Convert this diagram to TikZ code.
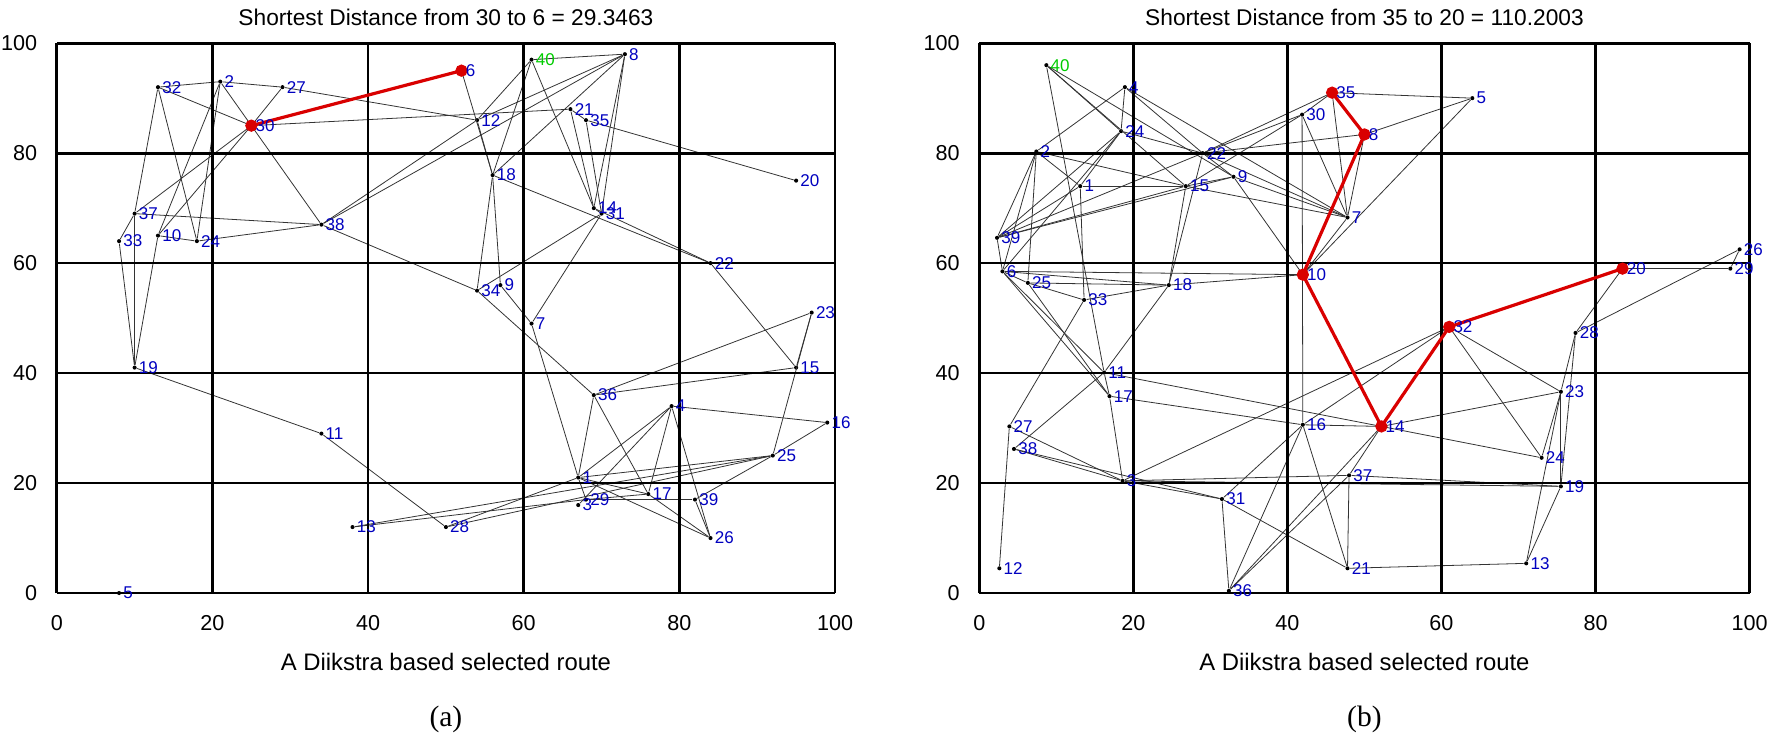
\documentclass[tikz,border=0pt]{standalone}
\usepackage{fontspec}
\setmainfont{Liberation Sans}
\newfontfamily\serifx{Liberation Serif}
\begin{document}
\begin{tikzpicture}[
  dot/.style={circle,fill=black,inner sep=0pt,minimum size=1.8pt},
  lab/.style={anchor=west,text=blue!75!black,font=\fontsize{7.5}{8}\selectfont,inner sep=0.6pt},
  edg/.style={draw=black!80,line width=0.35pt},
  gridl/.style={draw=black,line width=1.2pt},
  redp/.style={draw=red!85!black,line width=1.4pt},
  redn/.style={circle,draw=red!85!black,fill=red!85!black,inner sep=0pt,minimum size=5pt},
  tickl/.style={font=\fontsize{9.5}{10}\selectfont},
  ttl/.style={font=\fontsize{10}{11}\selectfont},
  capt/.style={font=\serifx\fontsize{13}{14}\selectfont}]
\useasboundingbox (0,0) rectangle (782.5pt,332pt);
% ---------------- LEFT PLOT ----------------
\begin{scope}[shift={(25pt,71pt)},x=3.425pt,y=2.42pt]
\foreach \n/\x/\y in {32/13/92,2/21/93,27/29/92,30/25/85,6/52/95,40/61/97,8/73/98,12/54/86,21/66/88,35/68/86,18/56/76,14/69/70,31/70/69,20/95/75,22/84/60,37/10/69,33/8/64,10/13/65,24/18/64,38/34/67,34/54/55,9/57/56,7/61/49,23/97/51,15/95/41,19/10/41,11/34/29,36/69/36,4/79/34,16/99/31,25/92/25,1/67/21,29/68/17,3/67/16,17/76/18,39/82/17,26/84/10,13/38/12,28/50/12,5/8/0}
  {\node[dot] (L\n) at (\x,\y) {};}
\foreach \a/\b in {32/2,32/30,32/24,32/37,2/27,2/30,2/24,2/10,27/30,27/12,30/21,30/38,30/37,30/10,37/38,37/33,33/19,37/19,10/19,10/24,24/38,38/8,38/34,38/12,6/18,40/8,40/18,40/14,40/12,12/18,12/8,8/18,8/14,8/31,21/35,21/14,35/20,35/31,18/22,18/34,18/9,14/31,14/22,31/34,31/7,9/7,34/36,7/1,22/15,23/15,23/25,23/36,36/1,36/17,4/1,4/17,4/16,4/26,36/15,16/25,25/1,25/39,25/13,25/28,1/29,1/26,29/17,17/26,29/39,28/1,13/29,11/19,11/28,39/26,1/17,3/4}
  {\draw[edg] (L\a) -- (L\b);}
\foreach \v in {0,20,...,100}{
  \draw[gridl] (\v,0) -- (\v,100);
  \draw[gridl] (0,\v) -- (100,\v);
  \node[tickl] (LX\v) at (\v,-5.5) {\v};
  \node[tickl,anchor=east] (LY\v) at (-1.5,\v) {\v};}
\draw[redp] (L30) -- (L6);
\node[redn] (R30) at (L30) {};
\node[redn] (R6) at (L6) {};
\foreach \n in {32,2,27,30,6,8,12,21,35,18,14,31,20,22,37,33,10,24,38,34,9,7,23,15,19,11,36,4,16,25,1,29,3,17,39,26,13,28,5}
  {\node[lab] (L\n t) at (L\n.east) {\n};}
\node[lab,text=green!80!black] (L40t) at (L40.east) {40};
\node[ttl] (Ltitle) at (50,104.6) {Shortest Distance from 30 to 6 = 29.3463};
\node[font=\fontsize{10.5}{11}\selectfont] (Lxl) at (50,-12.6) {A Diikstra based selected route};
\node[capt] (La) at (50,-23) {(a)};
\end{scope}
% ---------------- RIGHT PLOT ----------------
\begin{scope}[shift={(431pt,71pt)},x=3.39pt,y=2.42pt]
\foreach \n/\x/\y in {40/8.7/96,4/18.9/92,24/18.4/84,2/7.4/80.3,1/13.1/74,39/2.3/64.6,6/3/58.5,25/6.3/56.4,33/13.6/53.3,18/24.6/56,11/16.2/40.1,17/16.9/35.8,27/3.9/30.3,38/4.5/26.2,3/18.6/20.4,15/26.8/74,22/29/80,35/45.8/91,30/41.9/87,5/64/90,8/50/83.4,9/33/75.7,7/47.8/68.3,10/42/57.9,32/61/48.4,16/42/30.6,14/52.2/30.3,37/48/21.4,31/31.5/17.1,20/83.5/59,26/98.7/62.5,29/97.5/59,28/77.4/47.3,23/75.5/36.6,24b/73/24.6,19/75.5/19.4,13/71/5.4,21/47.8/4.5,36/32.4/0.4,12/2.6/4.5}
  {\node[dot] (R\n) at (\x,\y) {};}
\foreach \a/\b in {40/24,40/15,40/11,40/9,4/24,4/2,4/22,4/7,24/1,24/39,24/6,24/22,2/39,2/6,2/25,2/1,2/15,1/33,1/15,39/15,39/9,39/22,6/25,6/11,6/17,6/18,6/10,25/33,25/18,25/17,33/18,33/27,18/15,18/10,18/22,18/11,11/17,11/38,17/3,17/16,11/14,27/3,38/3,38/31,3/31,3/37,3/32,3/19,22/9,22/30,22/35,22/7,22/8,15/9,15/7,15/30,9/7,9/10,30/7,30/16,30/35,35/5,35/7,8/5,8/7,5/10,10/7,16/14,16/36,14/23,14/24b,14/37,32/23,32/24b,32/16,20/29,20/28,28/26,28/23,28/19,26/29,23/19,23/24b,19/13,13/23,37/19,37/21,37/36,21/13,21/31,21/16,36/31,36/14,12/27,31/16,39/6,1/39}
  {\draw[edg] (R\a) -- (R\b);}
\foreach \v in {0,20,...,100}{
  \draw[gridl] (\v,0) -- (\v,100);
  \draw[gridl] (0,\v) -- (100,\v);
  \node[tickl] (RX\v) at (\v,-5.5) {\v};
  \node[tickl,anchor=east] (RY\v) at (-1.5,\v) {\v};}
\draw[redp] (R35) -- (R8) -- (R10) -- (R14) -- (R32) -- (R20);
\foreach \n in {35,8,10,14,32,20}{\node[redn] (RR\n) at (R\n) {};}
\foreach \n in {4,24,2,1,39,6,25,33,18,11,17,27,38,3,15,22,35,30,5,8,9,7,10,32,16,14,37,31,20,26,29,28,23,19,13,21,36,12}
  {\node[lab] (R\n t) at (R\n.east) {\n};}
\node[lab] (R24bt) at (R24b.east) {24};
\node[lab,text=green!80!black] (R40t) at (R40.east) {40};
\node[ttl] (Rtitle) at (50,104.6) {Shortest Distance from 35 to 20 = 110.2003};
\node[font=\fontsize{10.5}{11}\selectfont] (Rxl) at (50,-12.6) {A Diikstra based selected route};
\node[capt] (Rb) at (50,-23) {(b)};
\end{scope}
\end{tikzpicture}
\end{document}
